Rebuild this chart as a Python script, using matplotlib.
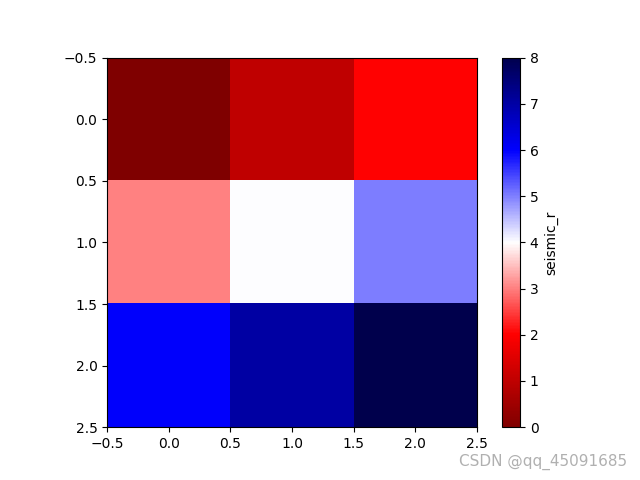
import matplotlib
matplotlib.use('Agg')
import matplotlib.pyplot as plt
import numpy as np

# значения ячеек 3x3
values = [[0, 1, 2],
          [3, 4, 5],
          [6, 7, 8]]
cmap_name = 'seismic_r'

fig, ax = plt.subplots(figsize=(6.4, 4.8), dpi=100)
im = ax.imshow(np.array(values), cmap=cmap_name)
cb = fig.colorbar(im, ax=ax)
cb.set_label(cmap_name)

fig.text(0.98, 0.02, 'CSDN @qq_45091685', ha='right', va='bottom',
         fontsize=11, color='#b0b0b0')

fig.savefig('out.png')
